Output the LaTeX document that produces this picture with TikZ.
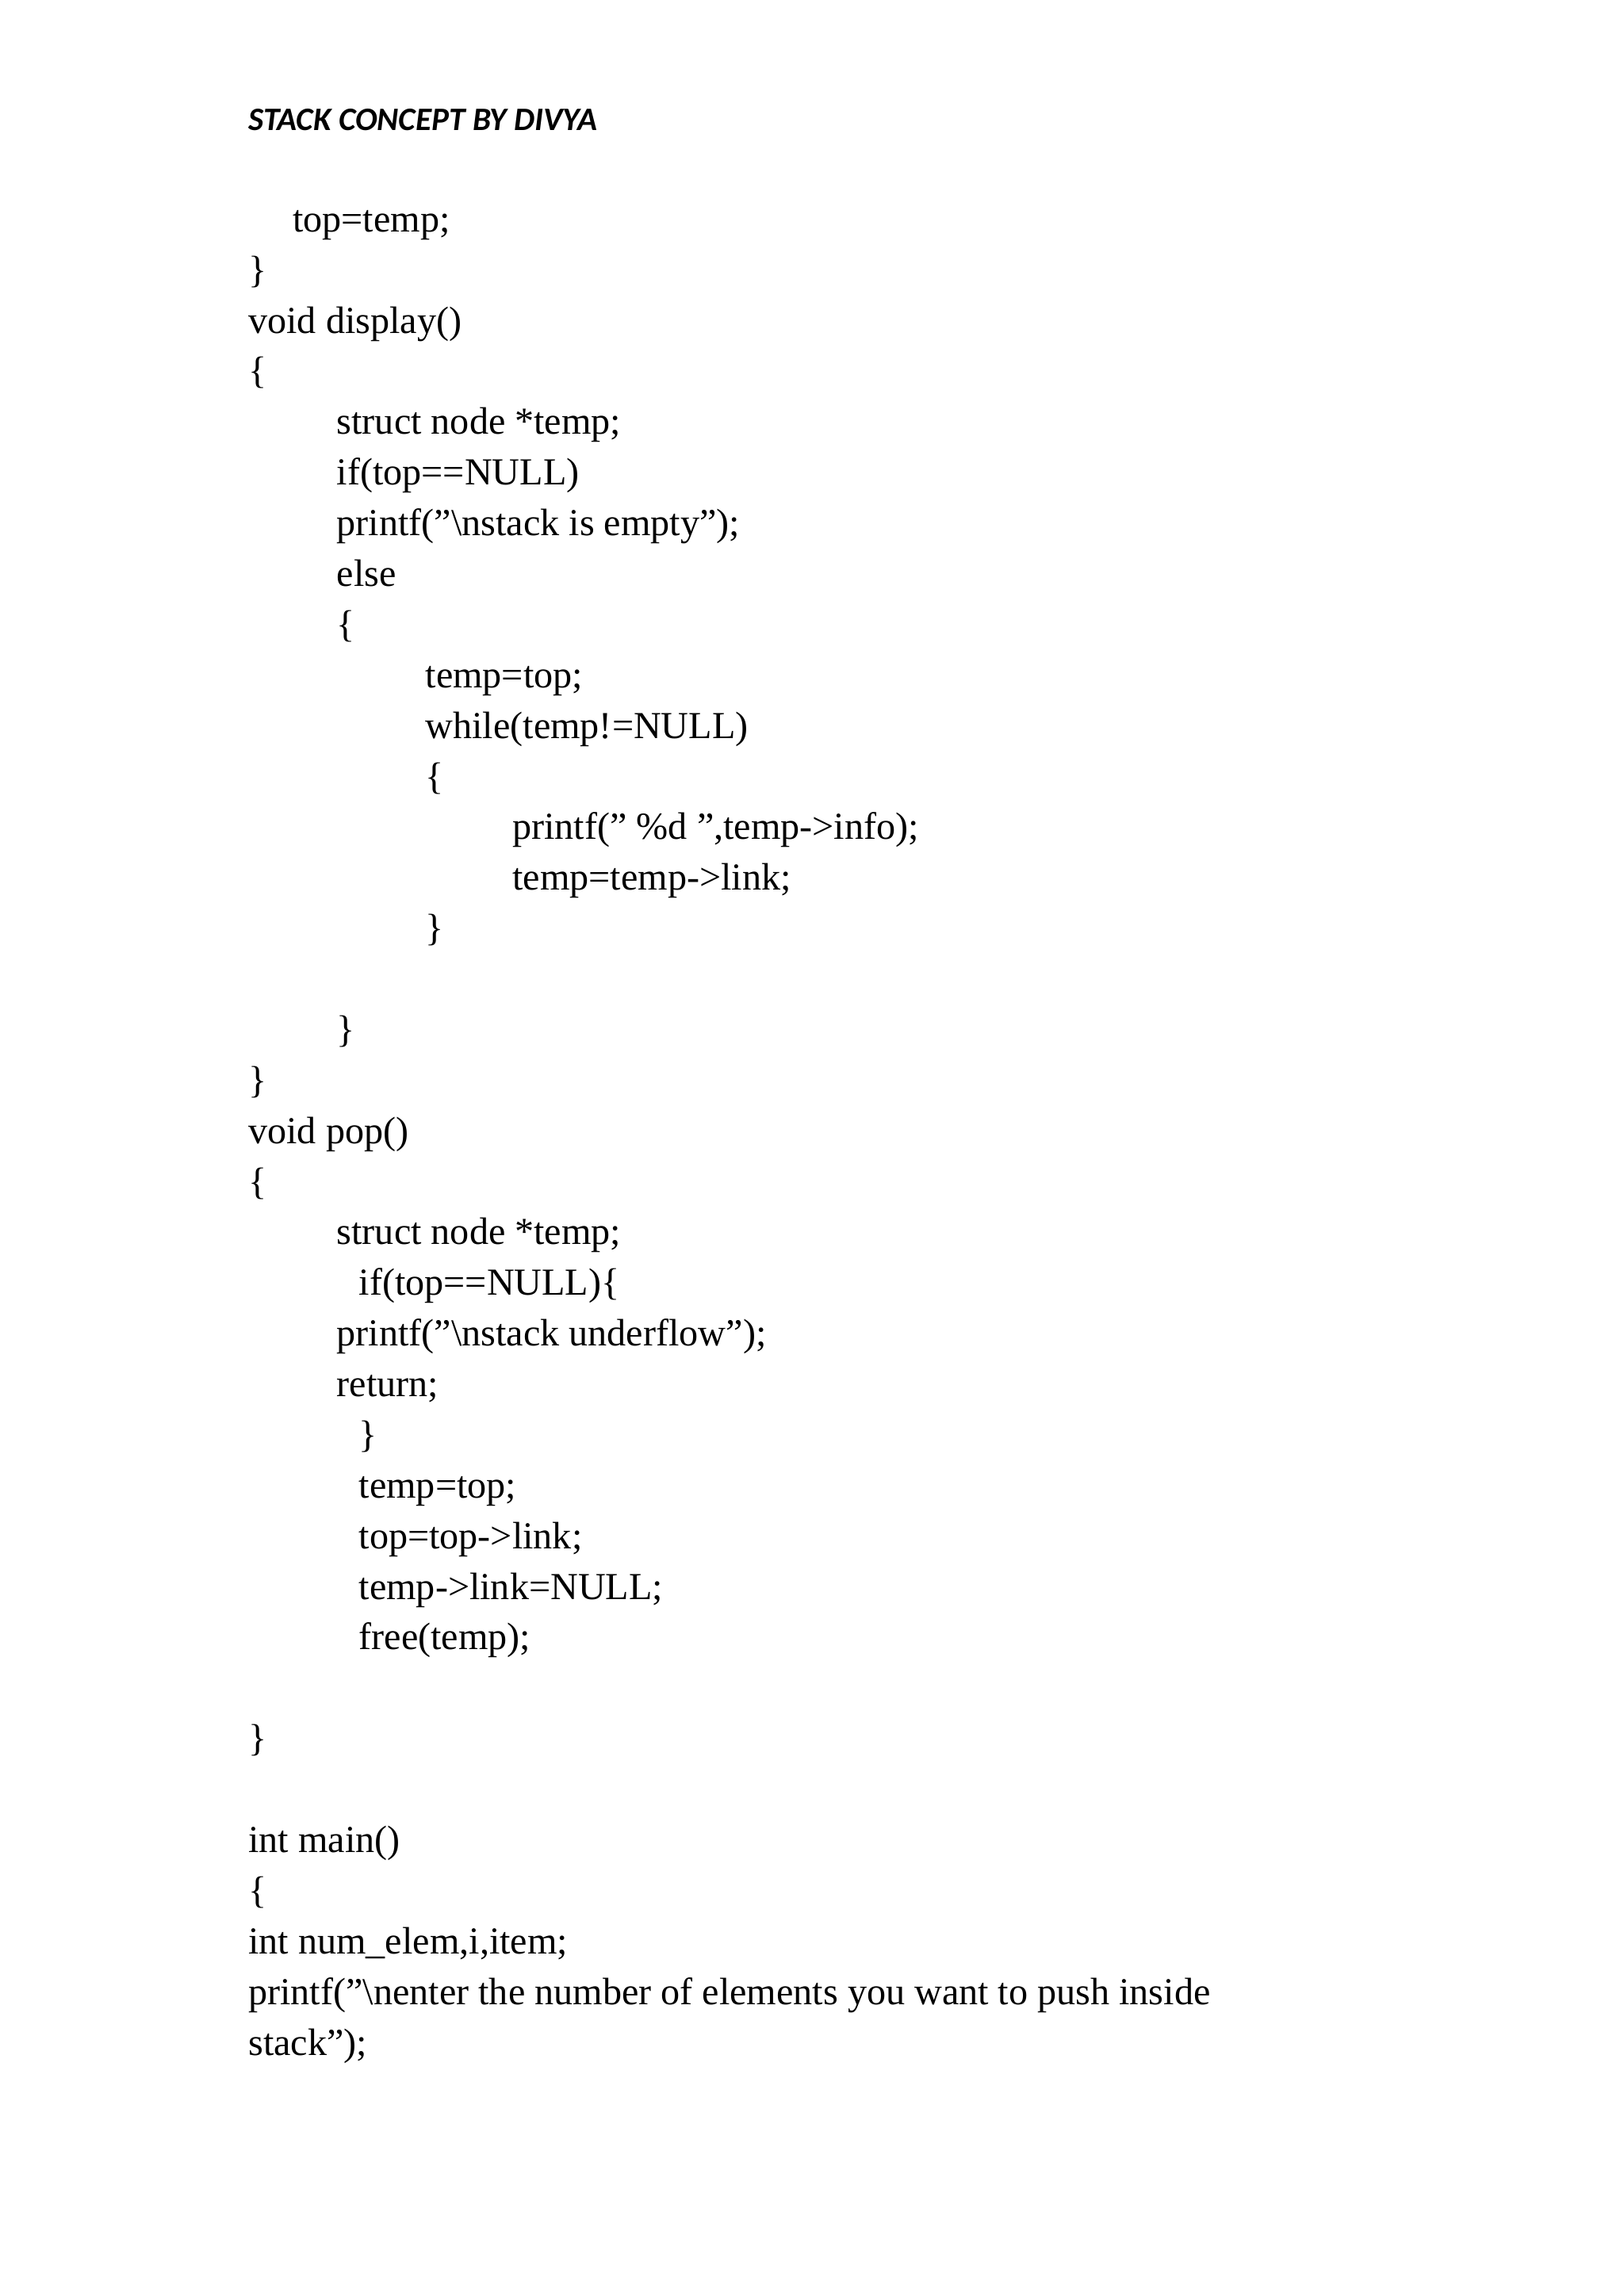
\documentclass[tikz,border=0pt]{standalone}
\usepackage{fontspec}
\setmainfont{Liberation Serif}
\newfontfamily\headfont{Carlito}
\newcommand{\codeline}[3]{\node[codetext] (l#1) at (#2pt,{-(82.7+18.57*#1)*1pt}) {#3};}
\begin{document}
\begin{tikzpicture}[x=1pt,y=1pt,
  codetext/.style={anchor=mid west,inner sep=0pt,font=\fontsize{14}{16}\selectfont}]
\useasboundingbox (0,0) rectangle (595.3,-841.9);
\node[anchor=mid west,inner sep=0pt,font=\headfont\bfseries\itshape\fontsize{12}{14}\selectfont] (head) at (90.9,-45.4) {STACK CONCEPT BY DIVYA};
\codeline{0}{107.1}{top=temp;}
\codeline{1}{90.9}{\}}
\codeline{2}{90.9}{void display()}
\codeline{3}{90.9}{\{}
\codeline{4}{123.3}{struct node *temp;}
\codeline{5}{123.3}{if(top==NULL)}
\codeline{6}{123.3}{printf("\textbackslash nstack is empty");}
\codeline{7}{123.3}{else}
\codeline{8}{123.3}{\{}
\codeline{9}{155.8}{temp=top;}
\codeline{10}{155.8}{while(temp!=NULL)}
\codeline{11}{155.8}{\{}
\codeline{12}{187.7}{printf(" \%d ",temp->info);}
\codeline{13}{187.7}{temp=temp->link;}
\codeline{14}{155.8}{\}}
\codeline{16}{123.3}{\}}
\codeline{17}{90.9}{\}}
\codeline{18}{90.9}{void pop()}
\codeline{19}{90.9}{\{}
\codeline{20}{123.3}{struct node *temp;}
\codeline{21}{131.4}{if(top==NULL)\{}
\codeline{22}{123.3}{printf("\textbackslash nstack underflow");}
\codeline{23}{123.3}{return;}
\codeline{24}{131.4}{\}}
\codeline{25}{131.4}{temp=top;}
\codeline{26}{131.4}{top=top->link;}
\codeline{27}{131.4}{temp->link=NULL;}
\codeline{28}{131.4}{free(temp);}
\codeline{30}{90.9}{\}}
\codeline{32}{90.9}{int main()}
\codeline{33}{90.9}{\{}
\codeline{34}{90.9}{int num\_elem,i,item;}
\codeline{35}{90.9}{printf("\textbackslash nenter the number of elements you want to push inside}
\codeline{36}{90.9}{stack");}
\end{tikzpicture}
\end{document}
